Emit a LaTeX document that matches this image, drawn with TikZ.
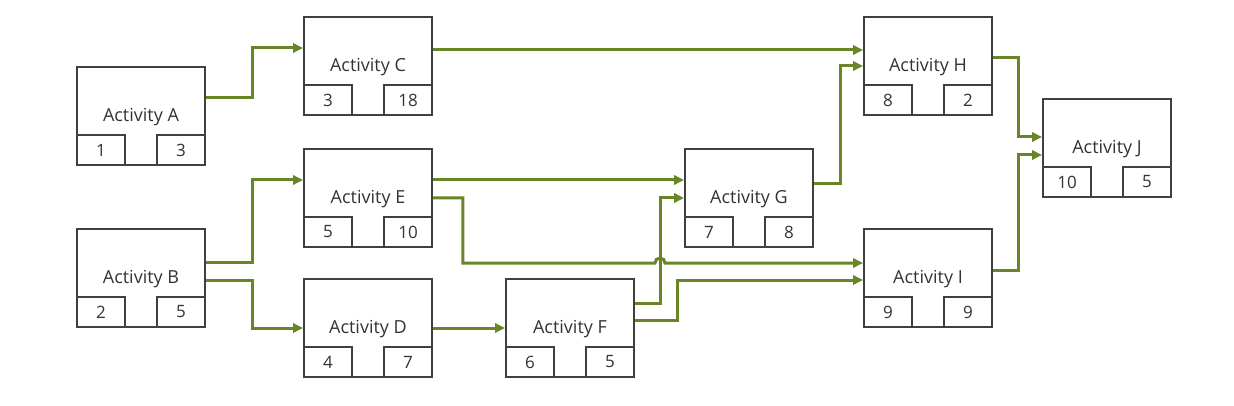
\documentclass[tikz,border=0pt]{standalone}
\usepackage{fontspec}
\setmainfont{Open Sans}
\usetikzlibrary{arrows.meta}
\definecolor{olive}{RGB}{104,134,40}
\tikzset{
  box/.style={draw=black!75,line width=1.6pt,minimum width=128pt,minimum height=98pt,inner sep=0pt},
  cell/.style={draw=black!75,line width=1.6pt,minimum width=48pt,minimum height=30pt,inner sep=0pt,font=\fontsize{17}{19}\selectfont,text=black!80},
  title/.style={font=\fontsize{18}{21}\selectfont,text=black!80},
  link/.style={draw=olive,line width=3pt,-{Triangle[length=10pt,width=9pt]}},
}
% \activity{name}{x}{y}{label}{left}{right}
\newcommand{\activity}[6]{%
  \node[box] (#1) at (#2,#3) {};
  \node[title] (#1t) at ([yshift=-1pt]#1.center) {#4};
  \node[cell,anchor=south west] (#1l) at (#1.south west) {#5};
  \node[cell,anchor=south east] (#1r) at (#1.south east) {#6};
}
\begin{document}
\begin{tikzpicture}[x=1pt,y=-1pt]
\useasboundingbox (0,0) rectangle (1234,406);
\fill[white] (0,0) rectangle (1234,406);
\activity{A}{141}{116}{Activity A}{1}{3}
\activity{B}{141}{278}{Activity B}{2}{5}
\activity{C}{368}{66}{Activity C}{3}{18}
\activity{E}{368}{198}{Activity E}{5}{10}
\activity{D}{368}{328}{Activity D}{4}{7}
\activity{F}{570}{328}{Activity F}{6}{5}
\activity{G}{749}{198}{Activity G}{7}{8}
\activity{H}{928}{66}{Activity H}{8}{2}
\activity{I}{928}{278}{Activity I}{9}{9}
\activity{J}{1107}{148}{Activity J}{10}{5}
\coordinate (hop) at (660,263);
\draw[link] ([yshift=18pt]A.east) -- ++(47,0) |- ([yshift=18pt]C.west);
\draw[link] ([yshift=16pt]C.east) -- ([yshift=16pt]H.west);
\draw[link] ([yshift=16pt]B.east) -- ++(47,0) |- ([yshift=18pt]E.west);
\draw[link] ([yshift=-2pt]B.east) -- ++(47,0) |- (D.west);
\draw[link] ([yshift=18pt]E.east) -- ([yshift=18pt]G.west);
\draw[link] (E.east) -- ++(30,0) |- ([xshift=-5pt]hop) arc[start angle=180,end angle=0,radius=5pt] -- ([yshift=15pt]I.west);
\draw[link] (D.east) -- (F.west);
\draw[link] ([yshift=25pt]F.east) -- ++(26,0) |- (G.west);
\draw[link] ([yshift=8pt]F.east) -- ++(43,0) |- ([yshift=-2pt]I.west);
\draw[link] ([yshift=14pt]G.east) -- ++(27,0) |- (H.west);
\draw[link] ([yshift=8pt]H.east) -- ++(26,0) |- ([yshift=11pt]J.west);
\draw[link] ([yshift=8pt]I.east) -- ++(26,0) |- ([yshift=-7pt]J.west);
\end{tikzpicture}
\end{document}
